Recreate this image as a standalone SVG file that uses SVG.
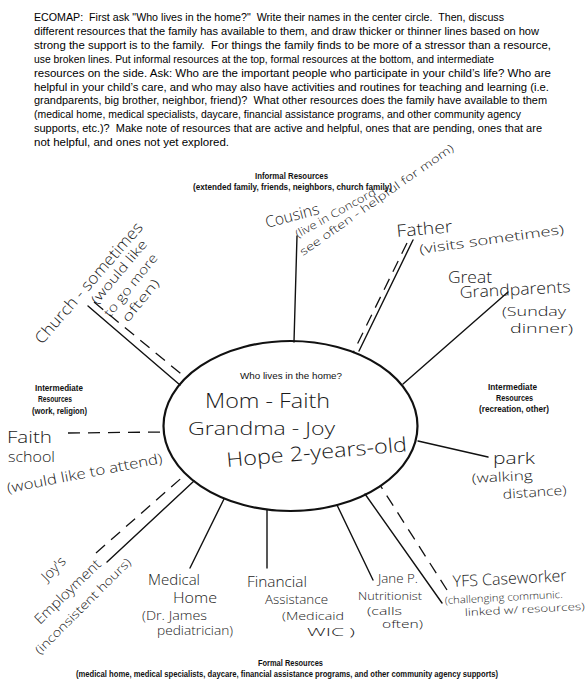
<svg xmlns="http://www.w3.org/2000/svg" width="588" height="689" viewBox="0 0 588 689">
<defs>
<style>
.hd{font-family:"Liberation Sans",Arial,sans-serif;font-size:11px;fill:#000;white-space:pre}
.lb{font-family:"Liberation Sans",Arial,sans-serif;font-size:8.5px;font-weight:bold;fill:#111}
.q{font-family:"Liberation Sans",Arial,sans-serif;font-size:9.5px;fill:#111}
.hw{font-family:"Open Sans","Noto Sans",sans-serif;font-weight:300;fill:#1a1a1a}
.ln{stroke:#111;stroke-width:1.4;fill:none;stroke-linecap:round}
.dl{stroke:#111;stroke-width:1.3;fill:none;stroke-dasharray:12 8}
</style>
</defs>
<rect width="588" height="689" fill="#fff"/>

<g id="instructions">
<text class="hd" x="34" y="21" textLength="470" lengthAdjust="spacingAndGlyphs">ECOMAP:  First ask "Who lives in the home?"  Write their names in the center circle.  Then, discuss</text>
<text class="hd" x="34" y="35" textLength="505" lengthAdjust="spacingAndGlyphs">different resources that the family has available to them, and draw thicker or thinner lines based on how</text>
<text class="hd" x="34" y="49" textLength="517" lengthAdjust="spacingAndGlyphs">strong the support is to the family.  For things the family finds to be more of a stressor than a resource,</text>
<text class="hd" x="34" y="63" textLength="460" lengthAdjust="spacingAndGlyphs">use broken lines. Put informal resources at the top, formal resources at the bottom, and intermediate</text>
<text class="hd" x="34" y="77" textLength="517" lengthAdjust="spacingAndGlyphs">resources on the side. Ask: Who are the important people who participate in your child’s life? Who are</text>
<text class="hd" x="34" y="91" textLength="515" lengthAdjust="spacingAndGlyphs">helpful in your child’s care, and who may also have activities and routines for teaching and learning (i.e.</text>
<text class="hd" x="34" y="104" textLength="513" lengthAdjust="spacingAndGlyphs">grandparents, big brother, neighbor, friend)?  What other resources does the family have available to them</text>
<text class="hd" x="34" y="118" textLength="487" lengthAdjust="spacingAndGlyphs">(medical home, medical specialists, daycare, financial assistance programs, and other community agency</text>
<text class="hd" x="34" y="132" textLength="508" lengthAdjust="spacingAndGlyphs">supports, etc.)?  Make note of resources that are active and helpful, ones that are pending, ones that are</text>
<text class="hd" x="34" y="146" textLength="195" lengthAdjust="spacingAndGlyphs">not helpful, and ones not yet explored.</text>
</g>

<g id="section-labels">
<text class="lb" x="255" y="179" textLength="73" lengthAdjust="spacingAndGlyphs">Informal Resources</text>
<text class="lb" x="193" y="190" textLength="199" lengthAdjust="spacingAndGlyphs">(extended family, friends, neighbors, church family)</text>
<text class="lb" x="35" y="391" textLength="48" lengthAdjust="spacingAndGlyphs">Intermediate</text>
<text class="lb" x="38" y="402" textLength="34" lengthAdjust="spacingAndGlyphs">Resources</text>
<text class="lb" x="32" y="414" textLength="55" lengthAdjust="spacingAndGlyphs">(work, religion)</text>
<text class="lb" x="488" y="390" textLength="49" lengthAdjust="spacingAndGlyphs">Intermediate</text>
<text class="lb" x="496" y="401" textLength="37" lengthAdjust="spacingAndGlyphs">Resources</text>
<text class="lb" x="479" y="412" textLength="70" lengthAdjust="spacingAndGlyphs">(recreation, other)</text>
<text class="lb" x="258" y="666" textLength="65" lengthAdjust="spacingAndGlyphs">Formal Resources</text>
<text class="lb" x="76" y="677" textLength="422" lengthAdjust="spacingAndGlyphs">(medical home, medical specialists, daycare, financial assistance programs, and other community agency supports)</text>
</g>

<g id="connectors">
<line class="ln" x1="297" y1="236" x2="294" y2="342"/>
<line class="ln" x1="413" y1="240" x2="359" y2="351"/>
<line class="dl" x1="407" y1="243" x2="353" y2="353" stroke-dasharray="10 7"/>
<line class="ln" x1="508" y1="292" x2="403" y2="384" stroke-width="3.2"/>
<line class="ln" x1="88" y1="306" x2="180" y2="385"/>
<line class="dl" x1="94" y1="302" x2="186" y2="378"/>
<line class="dl" x1="68" y1="433" x2="163" y2="432" stroke-dasharray="13 9 5 9"/>
<line class="ln" x1="418" y1="441" x2="488" y2="457" stroke-width="1.1"/>
<line class="ln" x1="107" y1="562" x2="194" y2="481"/>
<line class="dl" x1="96" y1="553" x2="186" y2="474"/>
<line class="ln" x1="190" y1="568" x2="224" y2="499" stroke-width="1.6"/>
<line class="ln" x1="267" y1="568" x2="267" y2="510" stroke-width="2.6"/>
<line class="ln" x1="373" y1="580" x2="337" y2="505" stroke-width="2.8"/>
<line class="ln" x1="442" y1="603" x2="365" y2="494" stroke-width="1.2"/>
<line class="dl" x1="447" y1="590" x2="380" y2="485" stroke-dasharray="14 11"/>
</g>

<g id="home">
<ellipse cx="290.5" cy="426" rx="127" ry="85" fill="none" stroke="#111" stroke-width="2.2"/>
<text class="q" x="240" y="379" textLength="102" lengthAdjust="spacingAndGlyphs">Who lives in the home?</text>
<text class="hw" x="205" y="408" font-size="20" textLength="125" lengthAdjust="spacingAndGlyphs">Mom - Faith</text>
<text class="hw" x="188" y="435" font-size="19" textLength="147" lengthAdjust="spacingAndGlyphs">Grandma - Joy</text>
<text class="hw" transform="translate(227,467) rotate(-5)" font-size="20" textLength="181" lengthAdjust="spacingAndGlyphs">Hope 2-years-old</text>
</g>

<g id="cousins">
<text class="hw" transform="translate(267,228) rotate(-15)" font-size="16" textLength="55" lengthAdjust="spacingAndGlyphs">Cousins</text>
<text class="hw" transform="translate(298,238) rotate(-29)" font-size="11" textLength="90" lengthAdjust="spacingAndGlyphs">(live in Concord</text>
<text class="hw" transform="translate(303,256) rotate(-35)" font-size="11" textLength="185" lengthAdjust="spacingAndGlyphs">see often - helpful for mom)</text>
</g>

<g id="father">
<text class="hw" transform="translate(397,237) rotate(-5)" font-size="17" textLength="56" lengthAdjust="spacingAndGlyphs">Father</text>
<text class="hw" transform="translate(420,254) rotate(-8)" font-size="13" textLength="146" lengthAdjust="spacingAndGlyphs">(visits sometimes)</text>
</g>

<g id="great-grandparents">
<text class="hw" x="448" y="283" font-size="16" textLength="44" lengthAdjust="spacingAndGlyphs">Great</text>
<text class="hw" transform="translate(460,298) rotate(-3)" font-size="16" textLength="111" lengthAdjust="spacingAndGlyphs">Grandparents</text>
<text class="hw" x="502" y="316" font-size="12" textLength="64" lengthAdjust="spacingAndGlyphs">(Sunday</text>
<text class="hw" x="510" y="333" font-size="12" textLength="63" lengthAdjust="spacingAndGlyphs">dinner)</text>
</g>

<g id="church">
<text class="hw" transform="translate(42,345) rotate(-49)" font-size="16" textLength="155" lengthAdjust="spacingAndGlyphs">Church - sometimes</text>
<text class="hw" transform="translate(97,305) rotate(-50)" font-size="13" textLength="79" lengthAdjust="spacingAndGlyphs">(would like</text>
<text class="hw" transform="translate(110,318) rotate(-51)" font-size="13" textLength="77" lengthAdjust="spacingAndGlyphs">to go more</text>
<text class="hw" transform="translate(128,323) rotate(-51)" font-size="13" textLength="51" lengthAdjust="spacingAndGlyphs">often)</text>
</g>

<g id="faith-school">
<text class="hw" x="7" y="443" font-size="17" textLength="45" lengthAdjust="spacingAndGlyphs">Faith</text>
<text class="hw" x="8" y="462" font-size="15" textLength="47" lengthAdjust="spacingAndGlyphs">school</text>
<text class="hw" transform="translate(8,493) rotate(-11)" font-size="14" textLength="158" lengthAdjust="spacingAndGlyphs">(would like to attend)</text>
</g>

<g id="park">
<text class="hw" x="493" y="464" font-size="16" textLength="42" lengthAdjust="spacingAndGlyphs">park</text>
<text class="hw" transform="translate(472,483) rotate(-3)" font-size="13" textLength="61" lengthAdjust="spacingAndGlyphs">(walking</text>
<text class="hw" transform="translate(503,499) rotate(-4)" font-size="13" textLength="64" lengthAdjust="spacingAndGlyphs">distance)</text>
</g>

<g id="joys-employment">
<text class="hw" transform="translate(47,582) rotate(-45)" font-size="14" textLength="28" lengthAdjust="spacingAndGlyphs">Joy's</text>
<text class="hw" transform="translate(40,625) rotate(-44)" font-size="14" textLength="86" lengthAdjust="spacingAndGlyphs">Employment</text>
<text class="hw" transform="translate(40,655) rotate(-45)" font-size="12" textLength="130" lengthAdjust="spacingAndGlyphs">(inconsistent hours)</text>
</g>

<g id="medical-home">
<text class="hw" x="148" y="585" font-size="15" textLength="52" lengthAdjust="spacingAndGlyphs">Medical</text>
<text class="hw" x="173" y="603" font-size="15" textLength="44" lengthAdjust="spacingAndGlyphs">Home</text>
<text class="hw" x="142" y="620" font-size="12" textLength="65" lengthAdjust="spacingAndGlyphs">(Dr. James</text>
<text class="hw" x="157" y="635" font-size="12" textLength="76" lengthAdjust="spacingAndGlyphs">pediatrician)</text>
</g>

<g id="financial-assistance">
<text class="hw" x="247" y="587" font-size="15" textLength="60" lengthAdjust="spacingAndGlyphs">Financial</text>
<text class="hw" x="265" y="604" font-size="13" textLength="63" lengthAdjust="spacingAndGlyphs">Assistance</text>
<text class="hw" x="282" y="620" font-size="11" textLength="62" lengthAdjust="spacingAndGlyphs">(Medicaid</text>
<text class="hw" x="307" y="636" font-size="11" textLength="48" lengthAdjust="spacingAndGlyphs">WIC )</text>
</g>

<g id="jane-nutritionist">
<text class="hw" x="378" y="583" font-size="12.5" textLength="40" lengthAdjust="spacingAndGlyphs">Jane P.</text>
<text class="hw" x="358" y="600" font-size="11.5" textLength="64" lengthAdjust="spacingAndGlyphs">Nutritionist</text>
<text class="hw" x="367" y="615" font-size="11" textLength="35" lengthAdjust="spacingAndGlyphs">(calls</text>
<text class="hw" x="382" y="628" font-size="11" textLength="41" lengthAdjust="spacingAndGlyphs">often)</text>
</g>

<g id="yfs-caseworker">
<text class="hw" transform="translate(453,587) rotate(-3)" font-size="16" textLength="114" lengthAdjust="spacingAndGlyphs">YFS Caseworker</text>
<text class="hw" transform="translate(445,604) rotate(-3)" font-size="10" textLength="118" lengthAdjust="spacingAndGlyphs">(challenging communic.</text>
<text class="hw" transform="translate(465,616) rotate(-3)" font-size="10" textLength="120" lengthAdjust="spacingAndGlyphs">linked w/ resources)</text>
</g>
</svg>
